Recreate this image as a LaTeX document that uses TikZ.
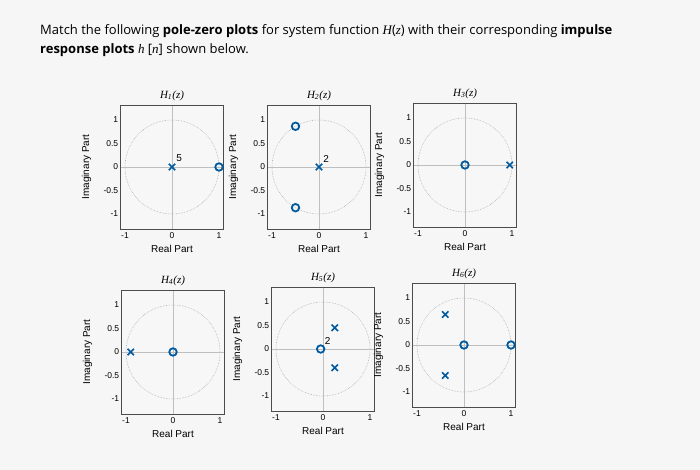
\documentclass[tikz,border=0pt]{standalone}
\usepackage{fontspec}
\setmainfont{Liberation Sans}
\newfontfamily\qfont{Open Sans}
\newfontfamily\serifit{Liberation Serif}
\definecolor{mblue}{RGB}{0,90,160}
\tikzset{
  pz/.style={x=47pt,y=47pt},
  ucirc/.style={gray!60,densely dotted,line width=0.6pt},
  axl/.style={gray!50,line width=0.4pt},
  frm/.style={black!70,line width=0.6pt},
  tk/.style={font=\fontsize{8.5}{9}\selectfont,inner sep=1pt},
  lab/.style={font=\fontsize{10}{11}\selectfont,inner sep=1pt},
  ttl/.style={font=\serifit\itshape\fontsize{11}{12}\selectfont},
  zer/.style={circle,draw=mblue,line width=1.8pt,minimum size=7.5pt,inner sep=0pt},
  pol/.style={mblue,line width=1.6pt},
  mult/.style={font=\fontsize{10}{11}\selectfont,inner sep=0pt},
  qtxt/.style={anchor=west,font=\qfont\fontsize{13}{15}\selectfont,inner sep=0}
}
\newcommand{\pzpanel}[4]{% name, cx, cy, title
 \begin{scope}[shift={(#2pt,#3pt)},pz]
  \fill[white!94!gray] (-1.1,-1.32) rectangle (1.1,1.32);
  \draw[ucirc] (0,0) circle (1);
  \draw[axl] (-1.1,0) -- (1.1,0) (0,-1.32) -- (0,1.32);
  \draw[frm] (-1.1,-1.32) rectangle (1.1,1.32);
  \foreach \v/\t in {1/1,0.5/0.5,0/0,-0.5/-0.5,-1/-1}
    \node[tk,anchor=east] at (-1.12,\v) {\t};
  \foreach \v/\t in {-1/-1,0/0,1/1}
    \node[tk,anchor=north] at (\v,-1.38) {\t};
  \node[lab] (#1x) at (0,-1.75) {Real Part};
  \node[lab,rotate=90] (#1y) at (-1.82,0) {Imaginary Part};
  \node[ttl] (#1t) at (0,1.52) {#4};
 \end{scope}}
\newcommand{\pole}[2]{\draw[pol] ($(#1,#2)+(-3.2pt,-3.2pt)$) -- ++(6.4pt,6.4pt) ($(#1,#2)+(-3.2pt,3.2pt)$) -- ++(6.4pt,-6.4pt);}
\usetikzlibrary{calc}
\begin{document}
\begin{tikzpicture}[x=1pt,y=1pt]
\fill[white!93!gray] (0,0) rectangle (700,470);
\useasboundingbox (0,0) rectangle (700,470);
\node[qtxt] (q1) at (40,439) {Match the following \textbf{pole-zero plots} for system function {\serifit\itshape H}({\serifit\itshape z}) with their corresponding \textbf{impulse}};
\node[qtxt] (q2) at (40,420) {\textbf{response plots} {\serifit\itshape h} [{\serifit\itshape n}] shown below.};

\pzpanel{a}{172}{303}{H\textsubscript{1}(z)}
\begin{scope}[shift={(172pt,303pt)},pz]
 \pole{0}{0} \node[mult] (a5) at (0.15,0.18) {5};
 \node[zer] (az) at (1,0) {};
\end{scope}
\pzpanel{b}{319}{303}{H\textsubscript{2}(z)}
\begin{scope}[shift={(319pt,303pt)},pz]
 \pole{0}{0} \node[mult] (b2) at (0.15,0.18) {2};
 \node[zer] (bz1) at (-0.5,0.866) {};
 \node[zer] (bz2) at (-0.5,-0.866) {};
\end{scope}
\pzpanel{c}{465}{305}{H\textsubscript{3}(z)}
\begin{scope}[shift={(465pt,305pt)},pz]
 \pole{0.95}{0}
 \node[zer] (cz) at (0,0) {};
\end{scope}
\pzpanel{d}{173}{118}{H\textsubscript{4}(z)}
\begin{scope}[shift={(173pt,118pt)},pz]
 \pole{-0.9}{0}
 \node[zer] (dz) at (0,0) {};
\end{scope}
\pzpanel{e}{323}{121}{H\textsubscript{5}(z)}
\begin{scope}[shift={(323pt,121pt)},pz]
 \pole{0.25}{0.45} \pole{0.25}{-0.4}
 \node[zer] (ez) at (-0.05,0) {}; \node[mult] (e2) at (0.1,0.17) {2};
\end{scope}
\pzpanel{f}{464}{125}{H\textsubscript{6}(z)}
\begin{scope}[shift={(464pt,125pt)},pz]
 \pole{-0.4}{0.65} \pole{-0.4}{-0.65}
 \node[zer] (fz1) at (0,0) {}; \node[zer] (fz2) at (1,0) {};
\end{scope}
\end{tikzpicture}
\end{document}
